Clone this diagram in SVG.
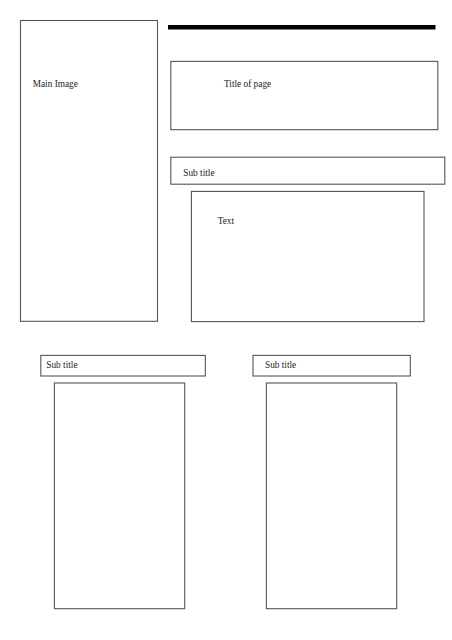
<svg xmlns="http://www.w3.org/2000/svg" width="452" height="640" viewBox="0 0 452 640">
<style>
.box{fill:#fff;stroke:#555;stroke-width:1.1}
.t{font-family:"Liberation Serif","DejaVu Serif",serif;font-size:9.3px;fill:#222}
</style>
<rect x="0" y="0" width="452" height="640" fill="#fff"/>
<g id="main-image"><rect class="box" x="20.5" y="20.5" width="137" height="300.8"/><text class="t" x="32.7" y="86.5">Main Image</text></g>
<g id="top-bar"><rect x="168" y="25" width="267.5" height="4.5" fill="#000"/></g>
<g id="title"><rect class="box" x="170.8" y="61.4" width="267" height="68.3"/><text class="t" x="224" y="86.5">Title of page</text></g>
<g id="subtitle-top"><rect class="box" x="170.8" y="157.2" width="274" height="27"/><text class="t" x="183.3" y="175.6">Sub title</text></g>
<g id="text-box"><rect class="box" x="191.4" y="191.4" width="232.6" height="130.2"/><text class="t" x="217.7" y="223.5">Text</text></g>
<g id="subtitle-left"><rect class="box" x="40.8" y="355.4" width="164.5" height="20.6"/><text class="t" x="46.3" y="367.5">Sub title</text></g>
<g id="column-left"><rect class="box" x="54.4" y="383" width="130.3" height="225.7"/></g>
<g id="subtitle-right"><rect class="box" x="253" y="355.4" width="157.3" height="20.6"/><text class="t" x="265" y="367.5">Sub title</text></g>
<g id="column-right"><rect class="box" x="266.4" y="383" width="130.3" height="225.7"/></g>
<g id="connectors"/>
</svg>
